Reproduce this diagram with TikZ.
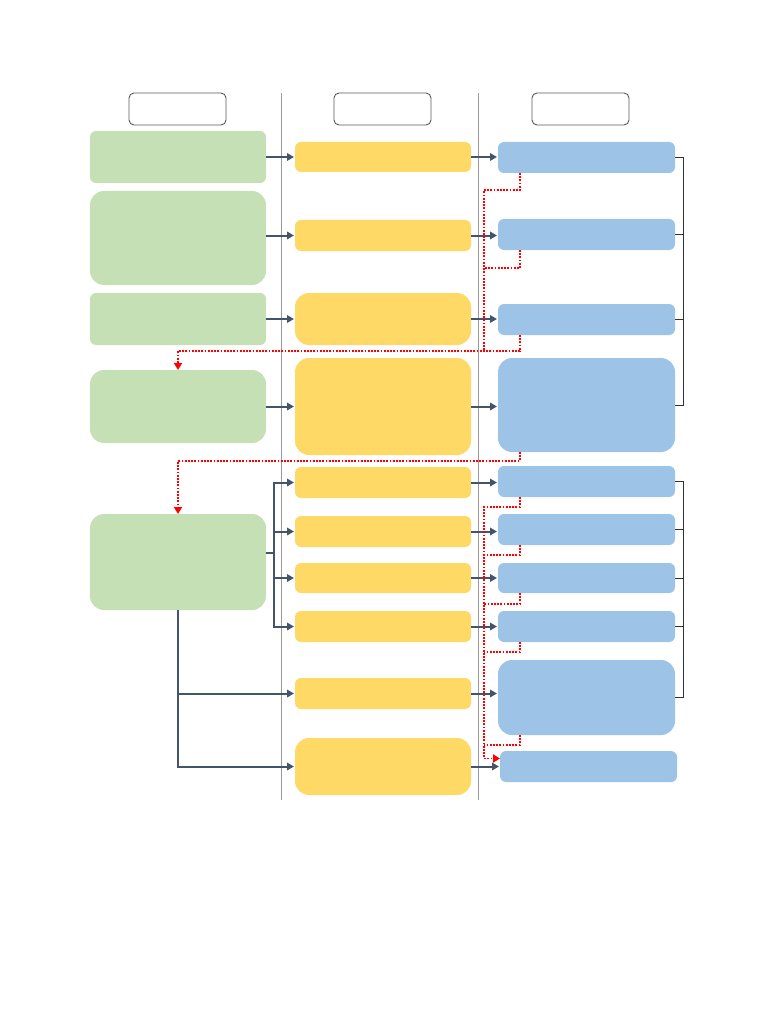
\documentclass[tikz,border=0pt]{standalone}
\usetikzlibrary{arrows.meta}
\definecolor{gfill}{HTML}{C5E0B4}
\definecolor{yfill}{HTML}{FFD966}
\definecolor{bfill}{HTML}{9DC3E6}
\definecolor{arrowcol}{HTML}{44546A}
\begin{document}
\begin{tikzpicture}[x=1pt, y=-1pt,
    box/.style={inner sep=0pt, outer sep=0pt, rounded corners=6pt},
    bigbox/.style={box, rounded corners=14pt},
    gbox/.style={fill=gfill, minimum width=176pt},
    ybox/.style={fill=yfill, minimum width=176pt},
    bbox/.style={fill=bfill, minimum width=177pt},
    head/.style={box, draw=black!65, line width=0.9pt, fill=white, rounded corners=5pt, minimum width=97pt, minimum height=32pt},
    conn/.style={draw=arrowcol, line width=2pt},
    arr/.style={conn, -{Triangle[length=7pt,width=7.5pt]}, shorten >=1pt},
    brk/.style={draw=black!80, line width=1pt},
    feed/.style={draw=red, line width=1.8pt, dash pattern=on 1.8pt off 1.4pt},
    feedarr/.style={feed, -{Triangle[length=7pt,width=8pt]}},
    sep/.style={draw=black!40, line width=0.8pt}]
  \useasboundingbox (0,0) rectangle (768,1024);
  % column headers and separators
  \node[head] (H1) at (177.5,109) {};
  \node[head] (H2) at (382.5,109) {};
  \node[head] (H3) at (580.5,109) {};
  \draw[sep] (281,93) -- (281,800);
  \draw[sep] (478,93) -- (478,800);
  % first column
  \node[box, gbox, minimum height=52pt] (G1) at (178,157) {};
  \node[bigbox, gbox, minimum height=94pt] (G2) at (178,238) {};
  \node[box, gbox, minimum height=52pt] (G3) at (178,319) {};
  \node[bigbox, gbox, minimum height=73pt] (G4) at (178,406.5) {};
  \node[bigbox, gbox, minimum height=96pt] (G5) at (178,562) {};
  % second column
  \node[box, ybox, minimum height=30pt] (Y1) at (383,157) {};
  \node[box, ybox, minimum height=31pt] (Y2) at (383,235.5) {};
  \node[bigbox, ybox, minimum height=52pt] (Y3) at (383,319) {};
  \node[bigbox, ybox, minimum height=97pt] (Y4) at (383,406.5) {};
  \node[box, ybox, minimum height=31pt] (Y5) at (383,482.5) {};
  \node[box, ybox, minimum height=31pt] (Y6) at (383,531.5) {};
  \node[box, ybox, minimum height=30pt] (Y7) at (383,578) {};
  \node[box, ybox, minimum height=31pt] (Y8) at (383,626.5) {};
  \node[box, ybox, minimum height=31pt] (Y9) at (383,693.5) {};
  \node[bigbox, ybox, minimum height=57pt] (Y10) at (383,766.5) {};
  % third column
  \node[box, bbox, minimum height=31pt] (B1) at (586.5,157.5) {};
  \node[box, bbox, minimum height=31pt] (B2) at (586.5,234.5) {};
  \node[box, bbox, minimum height=31pt] (B3) at (586.5,319.5) {};
  \node[bigbox, bbox, minimum height=94pt] (B4) at (586.5,405) {};
  \node[box, bbox, minimum height=31pt] (B5) at (586.5,481.5) {};
  \node[box, bbox, minimum height=31pt] (B6) at (586.5,529.5) {};
  \node[box, bbox, minimum height=30pt] (B7) at (586.5,578) {};
  \node[box, bbox, minimum height=31pt] (B8) at (586.5,626.5) {};
  \node[bigbox, bbox, minimum height=75pt] (B9) at (586.5,697.5) {};
  \node[box, bbox, minimum height=31pt] (B10) at (588.5,766.5) {};
  % helper coordinates
  \coordinate (F5) at (274,553);
  \coordinate (R) at (683,0);
  % arrows between columns
  \draw[arr] (G1.east |- Y1.west) -- (Y1.west);
  \draw[arr] (G2.east |- Y2.west) -- (Y2.west);
  \draw[arr] (G3.east |- Y3.west) -- (Y3.west);
  \draw[arr] (G4.east |- Y4.west) -- (Y4.west);
  \draw[conn] (G5.east |- F5) -- (F5);
  \draw[arr] (F5) |- (Y5.west);
  \draw[arr] (F5) |- (Y6.west);
  \draw[arr] (F5) |- (Y7.west);
  \draw[arr] (F5) |- (Y8.west);
  \draw[arr] (G5.south) |- (Y9.west);
  \draw[arr] (G5.south) |- (Y10.west);
  \draw[arr] (Y1.east) -- (B1.west |- Y1.east);
  \draw[arr] (Y2.east) -- (B2.west |- Y2.east);
  \draw[arr] (Y3.east) -- (B3.west |- Y3.east);
  \draw[arr] (Y4.east) -- (B4.west |- Y4.east);
  \draw[arr] (Y5.east) -- (B5.west |- Y5.east);
  \draw[arr] (Y6.east) -- (B6.west |- Y6.east);
  \draw[arr] (Y7.east) -- (B7.west |- Y7.east);
  \draw[arr] (Y8.east) -- (B8.west |- Y8.east);
  \draw[arr] (Y9.east) -- (B9.west |- Y9.east);
  \draw[arr] (Y10.east) -- (B10.west |- Y10.east);
  % brackets on the right
  \draw[brk] (B1.east) -- (B1.east -| R) -- (B4.east -| R) -- (B4.east);
  \draw[brk] (B2.east) -- (B2.east -| R);
  \draw[brk] (B3.east) -- (B3.east -| R);
  \draw[brk] (B5.east) -- (B5.east -| R) -- (B9.east -| R) -- (B9.east);
  \draw[brk] (B6.east) -- (B6.east -| R);
  \draw[brk] (B7.east) -- (B7.east -| R);
  \draw[brk] (B8.east) -- (B8.east -| R);
  % red feedback lines
  \draw[feed] ([xshift=22pt]B1.south west) -- ++(0,17) -- ++(-36,0) -- ++(0,161);
  \draw[feed] ([xshift=22pt]B2.south west) -- ++(0,18) -- ++(-36,0);
  \draw[feedarr] ([xshift=22pt]B3.south west) -- ++(0,16) -| (G4.north);
  \draw[feedarr] ([xshift=22pt]B4.south west) -- ++(0,9) -| (G5.north);
  \draw[feedarr] ([xshift=22pt]B5.south west) -- ++(0,10) -- ++(-36,0) |- ([yshift=8pt]B10.west);
  \draw[feed] ([xshift=22pt]B6.south west) -- ++(0,10) -- ++(-36,0);
  \draw[feed] ([xshift=22pt]B7.south west) -- ++(0,11) -- ++(-36,0);
  \draw[feed] ([xshift=22pt]B8.south west) -- ++(0,10) -- ++(-36,0);
  \draw[feed] ([xshift=22pt]B9.south west) -- ++(0,10) -- ++(-36,0);
\end{tikzpicture}
\end{document}
